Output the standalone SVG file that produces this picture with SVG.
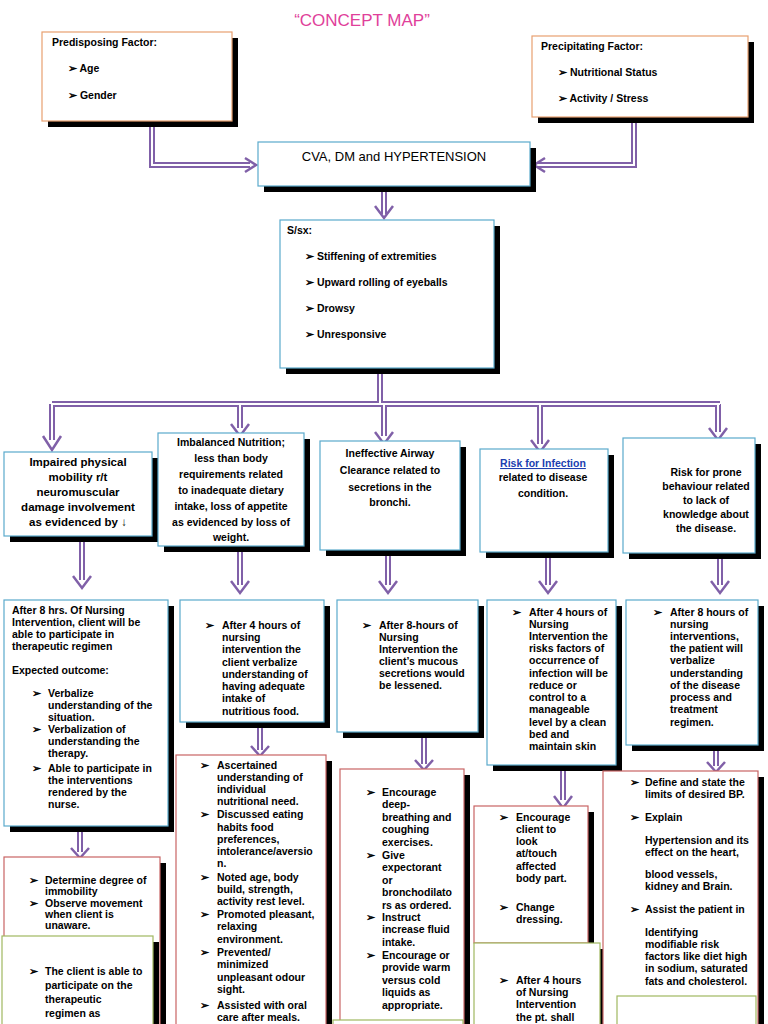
<svg xmlns="http://www.w3.org/2000/svg" width="768" height="1024" viewBox="0 0 768 1024">
<style>
text{font-family:"Liberation Sans",Arial,sans-serif;font-weight:bold;font-size:10.5px;fill:#000}
.sh{fill:#000}
.bx{fill:#fff;stroke-width:1.2}
.o{stroke:#e8a070}.t{stroke:#5aaacc}.r{stroke:#c86464}.g{stroke:#a0b860}
.c{text-anchor:middle}
.ao{fill:none;stroke:#8060a8;stroke-width:6}
.ai{fill:none;stroke:#fff;stroke-width:2}
.hd{fill:none;stroke:#8060a8;stroke-width:2.5}
</style>
<text x="362" y="26" class="c" style="font-size:17px;font-weight:normal;fill:#e0409a">“CONCEPT MAP”</text>

<g id="connectors">
<path class="ao" d="M152 121V165H250M634 117V165H538M384 186V214M380 368V404M52 404H720M52 404V440M240 404V428M384 404V436M540 404V444M718 404V432M82 538V580M240 546V585M388 552V585M548 553V585M720 553V585M80 826V852M260 722V750M424 735V764M563 765V800M716 745V766"/>
<path class="ai" d="M152 121V165H250M634 117V165H538M384 186V214M380 368V404M52 404H720M52 404V440M240 404V428M384 404V436M540 404V444M718 404V432M82 538V580M240 546V585M388 552V585M548 553V585M720 553V585M80 826V852M260 722V750M424 735V764M563 765V800M716 745V766"/>
<path class="hd" d="M245 158L256 165L245 172M545 158L534 165L545 172M375 206L384 218L393 206M43 436L52 450L61 436M231 424L240 436L249 424M375 432L384 444L393 432M531 440L540 452L549 440M709 428L718 440L727 428M73 576L82 588L91 576M231 581L240 593L249 581M379 581L388 593L397 581M539 581L548 593L557 581M711 581L720 593L729 581M71 848L80 858L89 848M251 746L260 756L269 746M415 760L424 770L433 760M554 796L563 808L572 796M707 762L716 772L725 762"/>
</g>

<g id="predisposing"><rect class="sh" x="48" y="38" width="190" height="89"/><rect class="bx o" x="42" y="32" width="190" height="89"/>
<text x="52" y="46">Predisposing Factor:</text><text x="68" y="72">➢   Age</text><text x="68" y="99">➢   Gender</text></g>
<g id="precipitating"><rect class="sh" x="538" y="42" width="216" height="81"/><rect class="bx o" x="532" y="36" width="216" height="81"/>
<text x="541" y="50">Precipitating Factor:</text><text x="558" y="76">➢   Nutritional Status</text><text x="558" y="102">➢   Activity / Stress</text></g>
<g id="cva"><rect class="sh" x="264" y="148" width="272" height="44"/><rect class="bx t" x="258" y="142" width="272" height="44"/>
<text x="394" y="161" class="c" style="font-weight:normal;font-size:13px">CVA, DM and HYPERTENSION</text></g>
<g id="ssx"><rect class="sh" x="286" y="226" width="214" height="148"/><rect class="bx t" x="280" y="220" width="214" height="148"/>
<text x="287" y="234">S/sx:</text>
<text x="305" y="260">➢   Stiffening of extremities</text><text x="305" y="286">➢   Upward rolling of eyeballs</text><text x="305" y="312">➢   Drowsy</text><text x="305" y="338">➢   Unresponsive</text></g>

<g id="dx1"><rect class="sh" x="10" y="458" width="148" height="84"/><rect class="bx t" x="4" y="452" width="148" height="84"/>
<text class="c" style="font-size:11.5px"><tspan x="78" y="466">Impaired physical</tspan><tspan x="78" y="481">mobility r/t</tspan><tspan x="78" y="496">neuromuscular</tspan><tspan x="78" y="511">damage involvement</tspan><tspan x="78" y="526">as evidenced by ↓</tspan></text></g>
<g id="dx2"><rect class="sh" x="164" y="439" width="146" height="113"/><rect class="bx t" x="158" y="433" width="146" height="113"/>
<text class="c"><tspan x="231" y="446">Imbalanced Nutrition;</tspan><tspan x="231" y="462">less than body</tspan><tspan x="231" y="478">requirements related</tspan><tspan x="231" y="494">to inadequate dietary</tspan><tspan x="231" y="510">intake, loss of appetite</tspan><tspan x="231" y="526">as evidenced by loss of</tspan><tspan x="231" y="541">weight.</tspan></text></g>
<g id="dx3"><rect class="sh" x="326" y="447" width="140" height="109"/><rect class="bx t" x="320" y="441" width="140" height="109"/>
<text class="c"><tspan x="390" y="457">Ineffective Airway</tspan><tspan x="390" y="474">Clearance related to</tspan><tspan x="390" y="491">secretions in the</tspan><tspan x="390" y="506">bronchi.</tspan></text></g>
<g id="dx4"><rect class="sh" x="486" y="455" width="128" height="103"/><rect class="bx t" x="480" y="449" width="128" height="103"/>
<text x="543" y="467" class="c" style="fill:#2040b0;text-decoration:underline">Risk for Infection </text>
<text class="c"><tspan x="543" y="481">related to disease</tspan><tspan x="543" y="497">condition.</tspan></text></g>
<g id="dx5"><rect class="sh" x="629" y="444" width="132" height="115"/><rect class="bx t" x="623" y="438" width="132" height="115"/>
<text class="c"><tspan x="706" y="476">Risk for prone</tspan><tspan x="706" y="490">behaviour related</tspan><tspan x="706" y="504">to lack of</tspan><tspan x="706" y="518">knowledge about</tspan><tspan x="706" y="532">the disease.</tspan></text></g>

<g id="goal1"><rect class="sh" x="10" y="606" width="164" height="226"/><rect class="bx t" x="4" y="600" width="164" height="226"/>
<text><tspan x="12" y="614">After 8 hrs. Of Nursing</tspan><tspan x="12" y="626">Intervention, client will be</tspan><tspan x="12" y="638">able to participate in</tspan><tspan x="12" y="650">therapeutic regimen</tspan><tspan x="12" y="674">Expected outcome:</tspan>
<tspan x="32" y="697">➢</tspan><tspan x="48" y="697">Verbalize</tspan><tspan x="48" y="709">understanding of the</tspan><tspan x="48" y="721">situation.</tspan>
<tspan x="32" y="733">➢</tspan><tspan x="48" y="733">Verbalization of</tspan><tspan x="48" y="745">understanding the</tspan><tspan x="48" y="757">therapy.</tspan>
<tspan x="32" y="772">➢</tspan><tspan x="48" y="772">Able to participate in</tspan><tspan x="48" y="784">the interventions</tspan><tspan x="48" y="796">rendered by the</tspan><tspan x="48" y="808">nurse.</tspan></text></g>
<g id="goal2"><rect class="sh" x="186" y="606" width="144" height="122"/><rect class="bx t" x="180" y="600" width="144" height="122"/>
<text><tspan x="205" y="629">➢</tspan><tspan x="222" y="629">After 4 hours of</tspan><tspan x="222" y="641">nursing</tspan><tspan x="222" y="653">intervention the</tspan><tspan x="222" y="666">client verbalize</tspan><tspan x="222" y="678">understanding of</tspan><tspan x="222" y="690">having adequate</tspan><tspan x="222" y="702">intake of</tspan><tspan x="222" y="715">nutritious food.</tspan></text></g>
<g id="goal3"><rect class="sh" x="343" y="606" width="141" height="132"/><rect class="bx t" x="337" y="600" width="141" height="132"/>
<text><tspan x="362" y="629">➢</tspan><tspan x="379" y="629">After 8-hours of</tspan><tspan x="379" y="641">Nursing</tspan><tspan x="379" y="653">Intervention the</tspan><tspan x="379" y="665">client’s mucous</tspan><tspan x="379" y="677">secretions would</tspan><tspan x="379" y="689">be lessened.</tspan></text></g>
<g id="goal4"><rect class="sh" x="493" y="606" width="129" height="165"/><rect class="bx t" x="487" y="600" width="129" height="165"/>
<text><tspan x="512" y="616">➢</tspan><tspan x="529" y="616">After 4 hours of</tspan><tspan x="529" y="628">Nursing</tspan><tspan x="529" y="640">Intervention the</tspan><tspan x="529" y="652">risks factors of</tspan><tspan x="529" y="664">occurrence of</tspan><tspan x="529" y="677">infection will be</tspan><tspan x="529" y="689">reduce or</tspan><tspan x="529" y="701">control to a</tspan><tspan x="529" y="713">manageable</tspan><tspan x="529" y="726">level by a clean</tspan><tspan x="529" y="738">bed and</tspan><tspan x="529" y="750">maintain skin</tspan></text></g>
<g id="goal5"><rect class="sh" x="632" y="606" width="132" height="145"/><rect class="bx t" x="626" y="600" width="132" height="145"/>
<text><tspan x="653" y="616">➢</tspan><tspan x="670" y="616">After 8 hours of</tspan><tspan x="670" y="628">nursing</tspan><tspan x="670" y="640">interventions,</tspan><tspan x="670" y="652">the patient will</tspan><tspan x="670" y="664">verbalize</tspan><tspan x="670" y="677">understanding</tspan><tspan x="670" y="689">of the disease</tspan><tspan x="670" y="701">process and</tspan><tspan x="670" y="713">treatment</tspan><tspan x="670" y="726">regimen.</tspan></text></g>

<g id="int1"><rect class="sh" x="10" y="863" width="156" height="170"/><rect class="bx r" x="4" y="857" width="156" height="170"/>
<text><tspan x="29" y="884">➢</tspan><tspan x="45" y="884">Determine degree of</tspan><tspan x="45" y="895">immobility</tspan><tspan x="29" y="907">➢</tspan><tspan x="45" y="907">Observe movement</tspan><tspan x="45" y="918">when client is</tspan><tspan x="45" y="929">unaware.</tspan></text></g>
<g id="eval1"><rect class="sh" x="8" y="942" width="151" height="90"/><rect class="bx g" x="2" y="936" width="151" height="90"/>
<text><tspan x="29" y="975">➢</tspan><tspan x="45" y="975">The client is able to</tspan><tspan x="45" y="989">participate on the</tspan><tspan x="45" y="1003">therapeutic</tspan><tspan x="45" y="1017">regimen as</tspan></text></g>
<g id="int2"><rect class="sh" x="182" y="761" width="150" height="270"/><rect class="bx r" x="176" y="755" width="150" height="270"/>
<text><tspan x="200" y="769">➢</tspan><tspan x="217" y="769">Ascertained</tspan><tspan x="217" y="781">understanding of</tspan><tspan x="217" y="793">individual</tspan><tspan x="217" y="805">nutritional need.</tspan>
<tspan x="200" y="818">➢</tspan><tspan x="217" y="818">Discussed eating</tspan><tspan x="217" y="831">habits food</tspan><tspan x="217" y="843">preferences,</tspan><tspan x="217" y="855">intolerance/aversio</tspan><tspan x="217" y="867">n.</tspan>
<tspan x="200" y="881">➢</tspan><tspan x="217" y="881">Noted age, body</tspan><tspan x="217" y="893">build, strength,</tspan><tspan x="217" y="905">activity rest level.</tspan>
<tspan x="200" y="918">➢</tspan><tspan x="217" y="918">Promoted pleasant,</tspan><tspan x="217" y="930">relaxing</tspan><tspan x="217" y="943">environment.</tspan>
<tspan x="200" y="956">➢</tspan><tspan x="217" y="956">Prevented/</tspan><tspan x="217" y="968">minimized</tspan><tspan x="217" y="981">unpleasant odour</tspan><tspan x="217" y="993">sight.</tspan>
<tspan x="200" y="1009">➢</tspan><tspan x="217" y="1009">Assisted with oral</tspan><tspan x="217" y="1021">care after meals.</tspan></text></g>
<g id="int3"><rect class="sh" x="346" y="775" width="124" height="260"/><rect class="bx r" x="340" y="769" width="124" height="260"/>
<text><tspan x="366" y="796">➢</tspan><tspan x="382" y="796">Encourage</tspan><tspan x="382" y="808">deep-</tspan><tspan x="382" y="821">breathing and</tspan><tspan x="382" y="833">coughing</tspan><tspan x="382" y="846">exercises.</tspan>
<tspan x="366" y="859">➢</tspan><tspan x="382" y="859">Give</tspan><tspan x="382" y="871">expectorant</tspan><tspan x="382" y="884">or</tspan><tspan x="382" y="896">bronchodilato</tspan><tspan x="382" y="909">rs as ordered.</tspan>
<tspan x="366" y="921">➢</tspan><tspan x="382" y="921">Instruct</tspan><tspan x="382" y="933">increase fluid</tspan><tspan x="382" y="946">intake.</tspan>
<tspan x="366" y="959">➢</tspan><tspan x="382" y="959">Encourage or</tspan><tspan x="382" y="971">provide warm</tspan><tspan x="382" y="984">versus cold</tspan><tspan x="382" y="996">liquids as</tspan><tspan x="382" y="1009">appropriate.</tspan></text>
<rect class="bx g" x="333" y="1020" width="130" height="10"/></g>
<g id="int4"><rect class="sh" x="480" y="812" width="114" height="137"/><rect class="bx r" x="474" y="806" width="114" height="137"/>
<text><tspan x="499" y="821">➢</tspan><tspan x="516" y="821">Encourage</tspan><tspan x="516" y="833">client to</tspan><tspan x="516" y="845">look</tspan><tspan x="516" y="857">at/touch</tspan><tspan x="516" y="870">affected</tspan><tspan x="516" y="882">body part.</tspan><tspan x="499" y="911">➢</tspan><tspan x="516" y="911">Change</tspan><tspan x="516" y="923">dressing.</tspan></text></g>
<g id="eval4"><rect class="sh" x="480" y="949" width="126" height="84"/><rect class="bx g" x="474" y="943" width="126" height="84"/>
<text><tspan x="499" y="984">➢</tspan><tspan x="516" y="984">After 4 hours</tspan><tspan x="516" y="996">of Nursing</tspan><tspan x="516" y="1008">Intervention</tspan><tspan x="516" y="1021">the pt. shall</tspan></text></g>
<g id="int5"><rect class="sh" x="609" y="777" width="155" height="256"/><rect class="bx r" x="603" y="771" width="155" height="256"/>
<text><tspan x="630" y="786">➢</tspan><tspan x="645" y="786">Define and state the</tspan><tspan x="645" y="798">limits of desired BP.</tspan><tspan x="630" y="821">➢</tspan><tspan x="645" y="821">Explain</tspan>
<tspan x="645" y="844">Hypertension and its</tspan><tspan x="645" y="856">effect on the heart,</tspan><tspan x="645" y="878">blood vessels,</tspan><tspan x="645" y="890">kidney and Brain.</tspan>
<tspan x="630" y="913">➢</tspan><tspan x="645" y="913">Assist the patient in</tspan><tspan x="645" y="936">Identifying</tspan><tspan x="645" y="948">modifiable risk</tspan><tspan x="645" y="960">factors like diet high</tspan><tspan x="645" y="972">in sodium, saturated</tspan><tspan x="645" y="985">fats and cholesterol.</tspan></text>
<rect class="bx g" x="617" y="996" width="139" height="34"/></g>
</svg>
